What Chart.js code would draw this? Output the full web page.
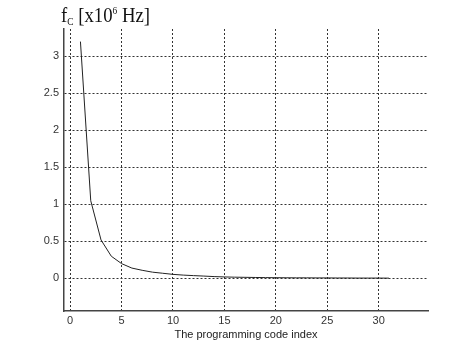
<!DOCTYPE html>
<html>
<head>
<meta charset="utf-8">
<script src="https://cdn.jsdelivr.net/npm/chart.js@4/dist/chart.umd.min.js"></script>
<style>
  html, body { margin: 0; padding: 0; background: #fff; }
  #chart { display: block; }
</style>
</head>
<body>
<canvas id="chart" width="474" height="351"></canvas>
<script>
// code index (x) and cut-off frequency fc in x10^6 Hz (y)
const codeIndex = [1, 2, 3, 4, 5, 6, 7, 8, 9, 10, 11, 12, 13, 14, 15, 16,
                   17, 18, 19, 20, 21, 22, 23, 24, 25, 26, 27, 28, 29, 30, 31];
const fcValues  = [3.20, 1.05, 0.52, 0.30, 0.20, 0.14, 0.11, 0.085, 0.07, 0.055, 0.045, 0.038,
                   0.032, 0.025, 0.02, 0.017, 0.015, 0.013, 0.011, 0.01, 0.009, 0.008, 0.008,
                   0.007, 0.007, 0.006, 0.006, 0.005, 0.005, 0.005, 0.004];
const xTicks = [0, 5, 10, 15, 20, 25, 30];
const yTicks = [0, 0.5, 1, 1.5, 2, 2.5, 3];

const points = codeIndex.map((x, i) => ({ x, y: fcValues[i] }));

// "fC [x10^6 Hz]" above the y axis, with sub/superscript
const yTitlePlugin = {
  id: "yTitle",
  afterDraw(chart) {
    const ctx = chart.ctx;
    const parts = [
      { t: "f", size: 22, dy: 0 },
      { t: "C", size: 11, dy: 3 },
      { t: " [x10", size: 22, dy: 0 },
      { t: "6", size: 11, dy: -8 },
      { t: " Hz]", size: 22, dy: 0 }
    ];
    const fam = '"Liberation Serif", "DejaVu Serif", serif';
    let total = 0;
    parts.forEach(p => { ctx.font = p.size + "px " + fam; p.w = ctx.measureText(p.t).width; total += p.w; });
    const x0 = 61, base = 22, targetW = 89;
    const sx = targetW / total;
    ctx.save();
    ctx.fillStyle = "#111";
    ctx.textBaseline = "alphabetic";
    ctx.translate(x0, 0);
    ctx.scale(sx, 1);
    let x = 0;
    parts.forEach(p => {
      ctx.font = p.size + "px " + fam;
      ctx.fillText(p.t, x, base + p.dy);
      x += p.w;
    });
    ctx.restore();
  }
};

const tickFont = { family: '"Liberation Sans", Arial, sans-serif', size: 11 };

new Chart(document.getElementById("chart"), {
  type: "line",
  data: {
    datasets: [{
      data: points,
      borderColor: "#222",
      borderWidth: 1,
      pointRadius: 0,
      tension: 0,
      fill: false
    }]
  },
  options: {
    responsive: false,
    animation: false,
    layout: { padding: { left: 0, top: 29, right: 46, bottom: 0 } },
    plugins: { legend: { display: false }, tooltip: { enabled: false } },
    scales: {
      x: {
        type: "linear",
        min: -0.6,
        max: 34.8,
        afterBuildTicks: s => { s.ticks = xTicks.map(v => ({ value: v })); },
        afterFit: s => { s.height = 40; },
        grid: { color: "#333", lineWidth: 1, drawTicks: false },
        border: { display: true, color: "#444", width: 1.5, dash: [2, 2] },
        ticks: { color: "#333", font: tickFont, padding: 3, autoSkip: false, maxRotation: 0,
                 callback: v => String(v) },
        title: { display: true, text: "The programming code index", color: "#222",
                 font: tickFont, padding: { top: 0, bottom: 9 } }
      },
      y: {
        type: "linear",
        min: -0.44,
        max: 3.37,
        afterBuildTicks: s => { s.ticks = yTicks.map(v => ({ value: v })); },
        afterFit: s => { s.width = 64; },
        grid: { color: "#333", lineWidth: 1, drawTicks: false },
        border: { display: true, color: "#444", width: 1.5, dash: [2, 2] },
        ticks: { color: "#333", font: tickFont, padding: 5, autoSkip: false,
                 callback: v => String(v) }
      }
    }
  },
  plugins: [yTitlePlugin]
});
</script>
</body>
</html>
